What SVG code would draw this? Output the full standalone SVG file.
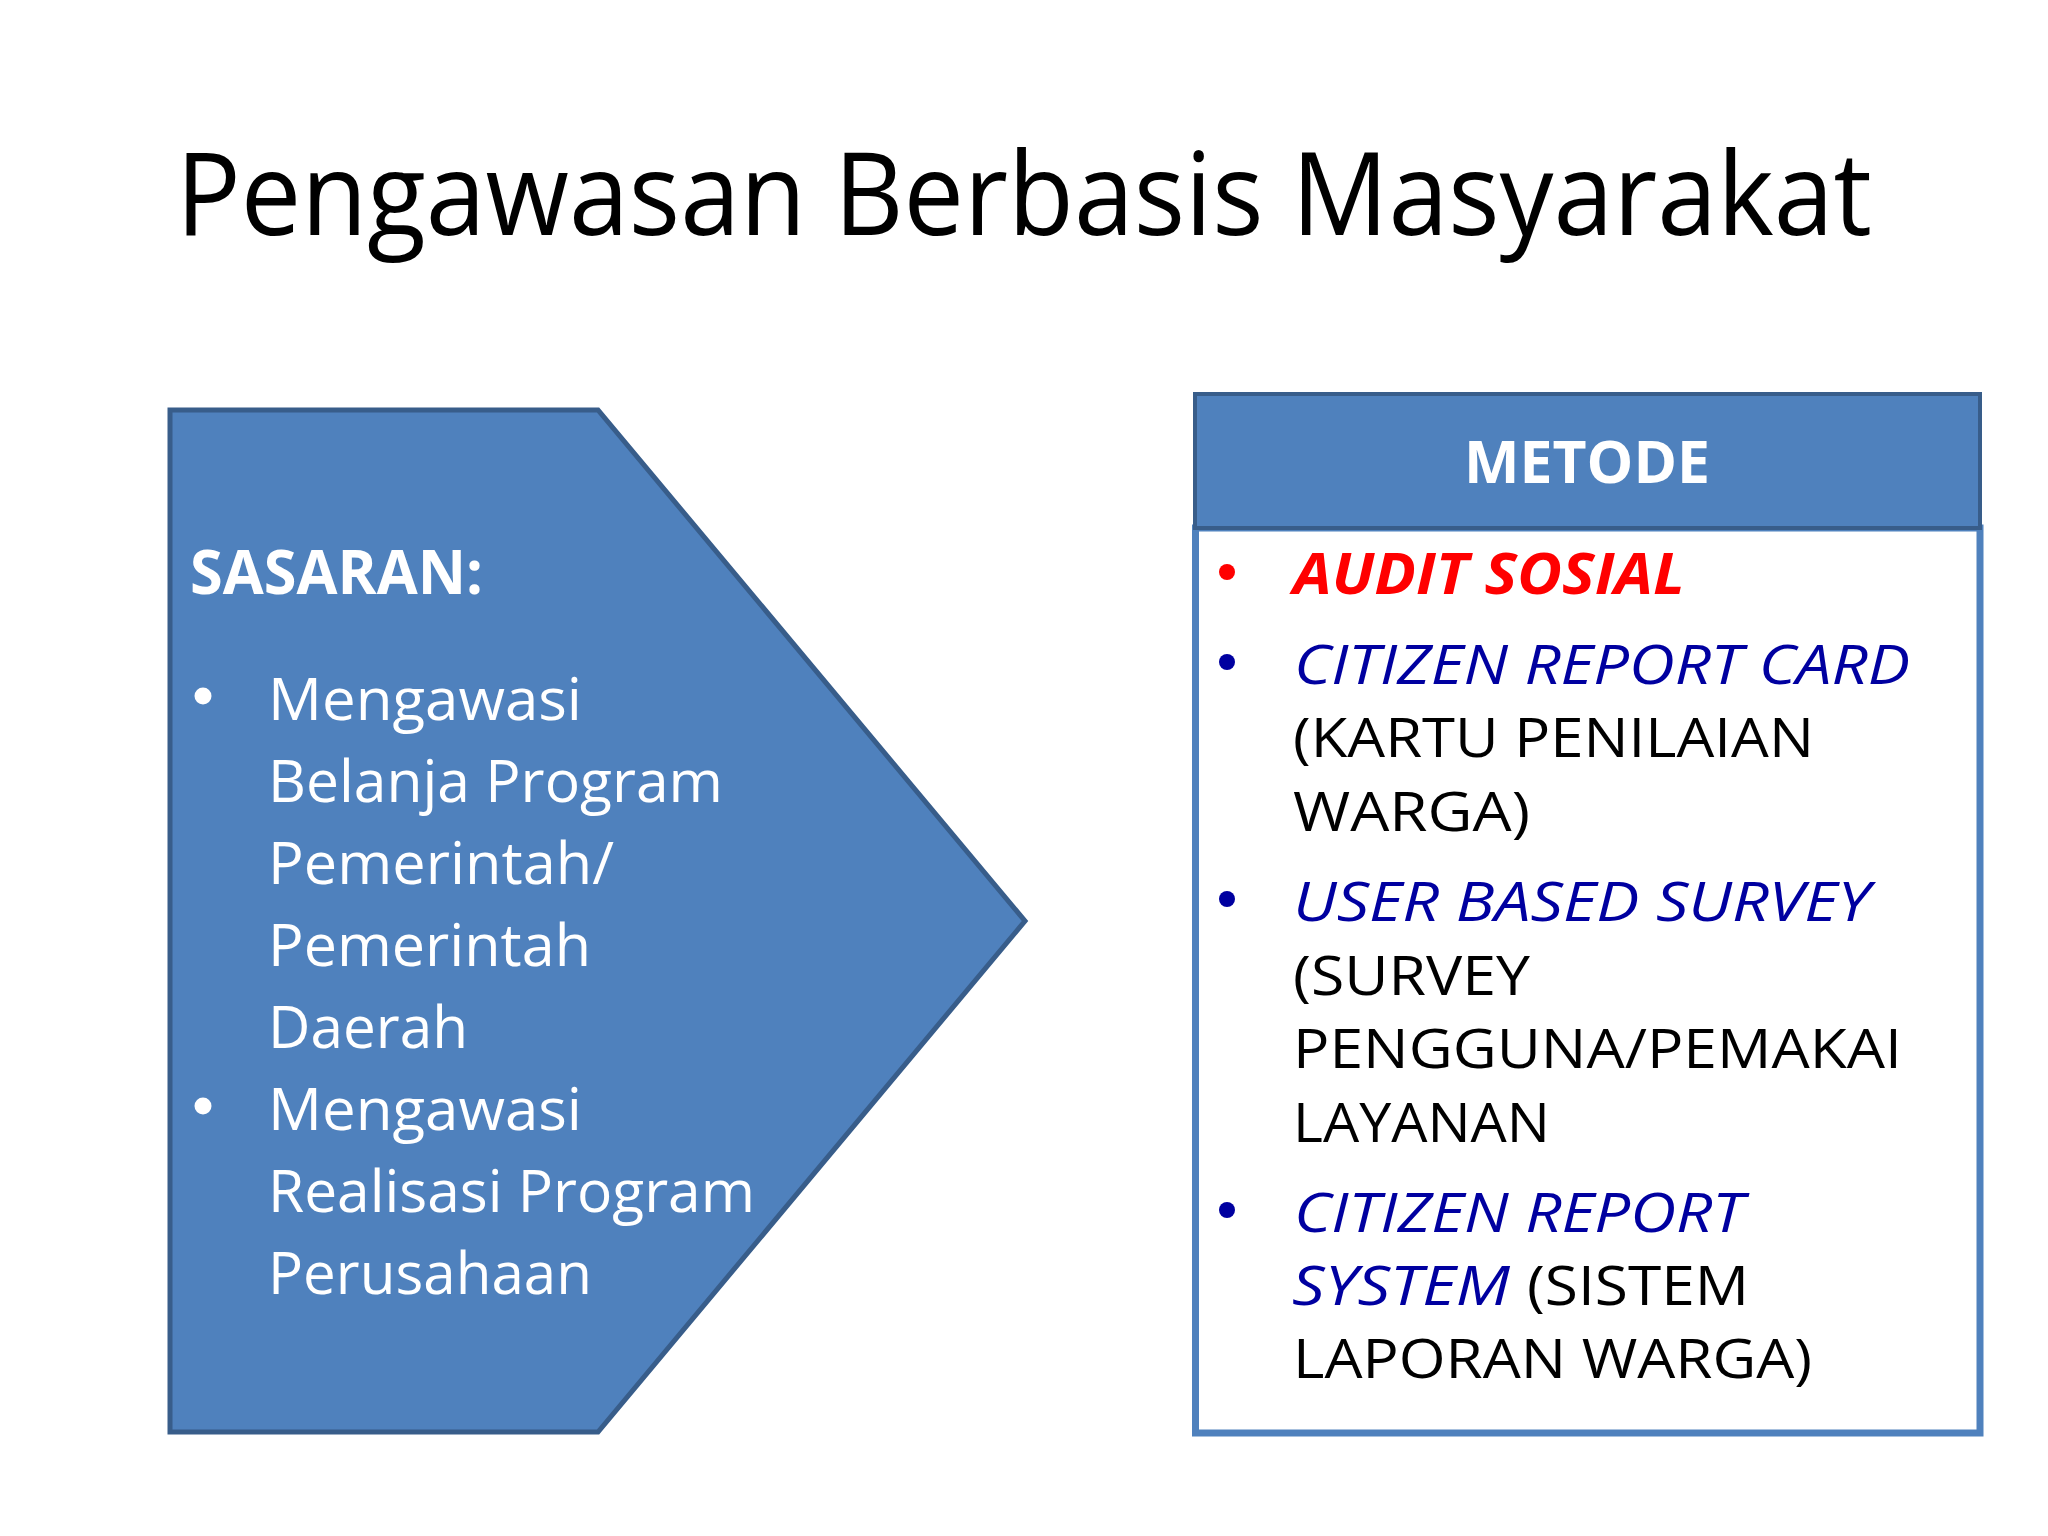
<svg xmlns="http://www.w3.org/2000/svg" width="2048" height="1536" viewBox="0 0 2048 1536">
<style>
text{font-family:"Open Sans","Noto Sans","Liberation Sans",sans-serif;}
.title{font-size:115px;fill:#000;}
.lt{font-size:59px;fill:#fff;}
.lh{font-size:60px;font-weight:bold;fill:#fff;}
.rh{font-size:59px;font-weight:bold;fill:#fff;}
.rt{font-size:55px;fill:#000;}
.ri{font-size:55px;font-style:italic;fill:#0000A0;}
.rr{font-size:58px;font-style:italic;font-weight:bold;fill:#FF0000;}
.shape{fill:#4F81BD;stroke:#385D8A;stroke-width:5;stroke-linejoin:miter;}
</style>
<rect width="2048" height="1536" fill="#fff"/>
<text class="title" x="176" y="235" textLength="1696" lengthAdjust="spacingAndGlyphs">Pengawasan Berbasis Masyarakat</text>
<g id="sasaran">
<polygon class="shape" points="170,410 598,410 1025,921 598,1432 170,1432"/>
<text class="lh" x="190" y="594" textLength="293" lengthAdjust="spacingAndGlyphs">SASARAN:</text>
<circle cx="203" cy="696" r="8.5" fill="#fff"/>
<circle cx="203" cy="1106" r="8.5" fill="#fff"/>
<text class="lt" x="268" y="720" textLength="314" lengthAdjust="spacingAndGlyphs">Mengawasi</text>
<text class="lt" x="268" y="802" textLength="455" lengthAdjust="spacingAndGlyphs">Belanja Program</text>
<text class="lt" x="268" y="884" textLength="346" lengthAdjust="spacingAndGlyphs">Pemerintah/</text>
<text class="lt" x="268" y="966" textLength="323" lengthAdjust="spacingAndGlyphs">Pemerintah</text>
<text class="lt" x="268" y="1048" textLength="200" lengthAdjust="spacingAndGlyphs">Daerah</text>
<text class="lt" x="268" y="1130" textLength="314" lengthAdjust="spacingAndGlyphs">Mengawasi</text>
<text class="lt" x="268" y="1212" textLength="487" lengthAdjust="spacingAndGlyphs">Realisasi Program</text>
<text class="lt" x="268" y="1294" textLength="324" lengthAdjust="spacingAndGlyphs">Perusahaan</text>
</g>
<g id="metode">
<rect x="1195.5" y="528" width="784.5" height="905" fill="#fff" stroke="#4F81BD" stroke-width="7"/>
<rect x="1195" y="394" width="785" height="134" fill="#4F81BD" stroke="#385D8A" stroke-width="4"/>
<text class="rh" x="1587" y="483" text-anchor="middle" textLength="246" lengthAdjust="spacingAndGlyphs">METODE</text>
<circle cx="1227" cy="572" r="8" fill="#FF0000"/>
<circle cx="1227" cy="662" r="8" fill="#0000A0"/>
<circle cx="1227" cy="899" r="8" fill="#0000A0"/>
<circle cx="1227" cy="1210" r="8" fill="#0000A0"/>
<text class="rr" x="1293" y="594" textLength="392" lengthAdjust="spacingAndGlyphs">AUDIT SOSIAL</text>
<text class="ri" x="1294" y="684" textLength="616" lengthAdjust="spacingAndGlyphs">CITIZEN REPORT CARD</text>
<text class="rt" x="1293" y="757" textLength="521" lengthAdjust="spacingAndGlyphs">(KARTU PENILAIAN</text>
<text class="rt" x="1293" y="831" textLength="237" lengthAdjust="spacingAndGlyphs">WARGA)</text>
<text class="ri" x="1293" y="921" textLength="577" lengthAdjust="spacingAndGlyphs">USER BASED SURVEY</text>
<text class="rt" x="1293" y="995" textLength="237" lengthAdjust="spacingAndGlyphs">(SURVEY</text>
<text class="rt" x="1293" y="1068" textLength="609" lengthAdjust="spacingAndGlyphs">PENGGUNA/PEMAKAI</text>
<text class="rt" x="1293" y="1142" textLength="257" lengthAdjust="spacingAndGlyphs">LAYANAN</text>
<text class="ri" x="1294" y="1232" textLength="450" lengthAdjust="spacingAndGlyphs">CITIZEN REPORT</text>
<text class="ri" x="1292" y="1305" textLength="218" lengthAdjust="spacingAndGlyphs">SYSTEM</text>
<text class="rt" x="1527" y="1305" textLength="222" lengthAdjust="spacingAndGlyphs">(SISTEM</text>
<text class="rt" x="1293" y="1378" textLength="519" lengthAdjust="spacingAndGlyphs">LAPORAN WARGA)</text>
</g>
<g id="connectors"></g>
</svg>
